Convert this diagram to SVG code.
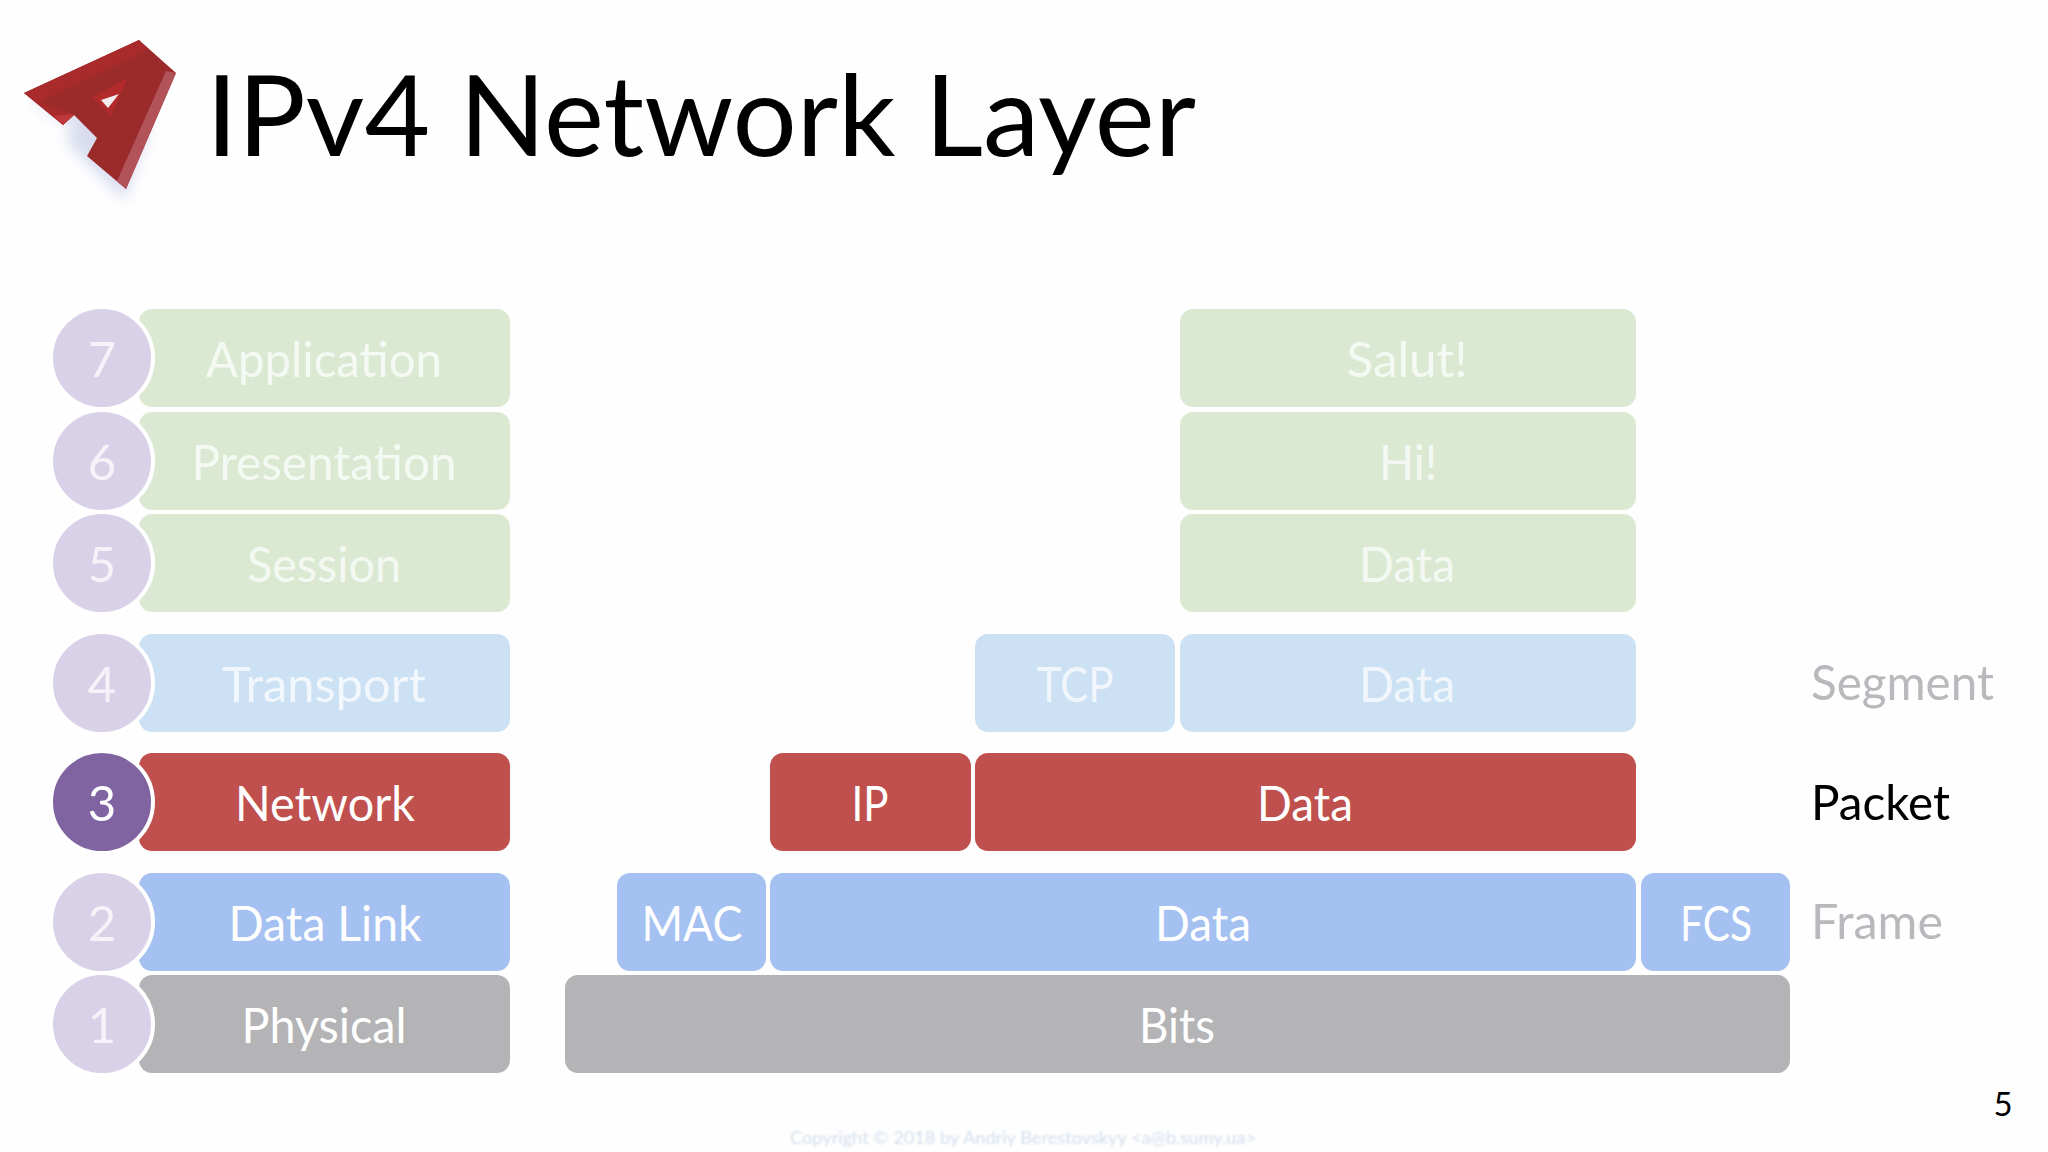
<svg xmlns="http://www.w3.org/2000/svg" width="2048" height="1152" viewBox="0 0 2048 1152">
<style>
text{font-family:"Lato","Carlito","Liberation Sans",sans-serif;text-anchor:middle}
.l{font-size:49px;fill:#fff}
.f{fill-opacity:.72}
.side{font-size:49px;text-anchor:start}
.g{fill:#dbe9d3}.b{fill:#cce1f3}.r{fill:#c0504d}.d{fill:#a4c1f2}.y{fill:#b4b4b6}
.c{fill:#d9d1e8;stroke:#fff;stroke-width:4}
</style>
<defs>
<filter id="soft" x="-30%" y="-30%" width="160%" height="160%"><feGaussianBlur stdDeviation="7"/></filter>
<filter id="blur" x="-5%" y="-50%" width="110%" height="200%"><feGaussianBlur stdDeviation="0.9"/></filter>
<filter id="edge" x="-5%" y="-5%" width="110%" height="110%"><feGaussianBlur stdDeviation="0.7"/></filter>
</defs>
<rect width="2048" height="1152" fill="#fefefe"/>

<g id="logo">
<path d="M28 100 72 126 66 142 92 168 124 200 150 130Z" fill="#c4cbe6" opacity=".65" filter="url(#soft)"/>
<g filter="url(#edge)">
<path fill="#9b2a2c" d="M24 93 139 40 176 73 126 189 87 156 97 138 74 115 63 125Z"/>
<path fill="#a92a2c" d="M24 93 139 40 147 50 40 102 74 115 63 125Z"/>
<path fill="#b2525a" d="M166 71 176 73 126 189 117 181Z"/>
<path fill="#c0383a" d="M54 116 70 114 74 115 63 125Z"/>
<path fill="#b22a2c" d="M93 97 128 78 111 115Z"/>
<path fill="#f3ecee" d="M101 100 119 94 108 108Z"/>
</g>
</g>

<text id="title" x="701" y="156" font-size="113" textLength="990" lengthAdjust="spacingAndGlyphs" fill="#000">IPv4 Network Layer</text>

<g id="layer7"><rect class="g" x="139" y="309" width="371" height="98" rx="13"/><circle class="c" cx="102" cy="358" r="51"/><text class="l f" x="102" y="377">7</text><text class="l f" x="324" y="377" textLength="236" lengthAdjust="spacingAndGlyphs">Application</text></g>
<g id="layer6"><rect class="g" x="139" y="412" width="371" height="98" rx="13"/><circle class="c" cx="102" cy="461" r="51"/><text class="l f" x="102" y="480">6</text><text class="l f" x="324" y="480" textLength="265" lengthAdjust="spacingAndGlyphs">Presentation</text></g>
<g id="layer5"><rect class="g" x="139" y="514" width="371" height="98" rx="13"/><circle class="c" cx="102" cy="563" r="51"/><text class="l f" x="102" y="582">5</text><text class="l f" x="324" y="582" textLength="154" lengthAdjust="spacingAndGlyphs">Session</text></g>
<g id="layer4"><rect class="b" x="139" y="634" width="371" height="98" rx="13"/><circle class="c" cx="102" cy="683" r="51"/><text class="l f" x="102" y="702">4</text><text class="l f" x="324" y="702" textLength="204" lengthAdjust="spacingAndGlyphs">Transport</text></g>
<g id="layer3"><rect class="r" x="139" y="753" width="371" height="98" rx="13"/><circle class="c" style="fill:#8064a2" cx="102" cy="802" r="51"/><text class="l" x="102" y="821">3</text><text class="l" x="325" y="821" textLength="180" lengthAdjust="spacingAndGlyphs">Network</text></g>
<g id="layer2"><rect class="d" x="139" y="873" width="371" height="98" rx="13"/><circle class="c" cx="102" cy="922" r="51"/><text class="l f" x="102" y="941">2</text><text class="l" x="325" y="941" textLength="193" lengthAdjust="spacingAndGlyphs">Data Link</text></g>
<g id="layer1"><rect class="y" x="139" y="975" width="371" height="98" rx="13"/><circle class="c" cx="102" cy="1024" r="51"/><text class="l f" x="102" y="1043">1</text><text class="l" x="324" y="1043" textLength="165" lengthAdjust="spacingAndGlyphs">Physical</text></g>

<g id="salut"><rect class="g" x="1180" y="309" width="456" height="98" rx="13"/><text class="l f" x="1407" y="377" textLength="121" lengthAdjust="spacingAndGlyphs">Salut!</text></g>
<g id="hi"><rect class="g" x="1180" y="412" width="456" height="98" rx="13"/><text class="l f" x="1408" y="480" textLength="58" lengthAdjust="spacingAndGlyphs">Hi!</text></g>
<g id="data5"><rect class="g" x="1180" y="514" width="456" height="98" rx="13"/><text class="l f" x="1407" y="582" textLength="96" lengthAdjust="spacingAndGlyphs">Data</text></g>
<g id="tcp"><rect class="b" x="975" y="634" width="200" height="98" rx="13"/><text class="l f" x="1075" y="702" textLength="77" lengthAdjust="spacingAndGlyphs">TCP</text></g>
<g id="data4"><rect class="b" x="1180" y="634" width="456" height="98" rx="13"/><text class="l f" x="1407" y="702" textLength="96" lengthAdjust="spacingAndGlyphs">Data</text></g>
<g id="ip"><rect class="r" x="770" y="753" width="201" height="98" rx="13"/><text class="l" x="870" y="821" textLength="37" lengthAdjust="spacingAndGlyphs">IP</text></g>
<g id="data3"><rect class="r" x="975" y="753" width="661" height="98" rx="13"/><text class="l" x="1305" y="821" textLength="96" lengthAdjust="spacingAndGlyphs">Data</text></g>
<g id="mac"><rect class="d" x="617" y="873" width="149" height="98" rx="13"/><text class="l" x="692" y="941" textLength="101" lengthAdjust="spacingAndGlyphs">MAC</text></g>
<g id="data2"><rect class="d" x="770" y="873" width="866" height="98" rx="13"/><text class="l" x="1203" y="941" textLength="96" lengthAdjust="spacingAndGlyphs">Data</text></g>
<g id="fcs"><rect class="d" x="1641" y="873" width="149" height="98" rx="13"/><text class="l" x="1716" y="941" textLength="72" lengthAdjust="spacingAndGlyphs">FCS</text></g>
<g id="bits"><rect class="y" x="565" y="975" width="1225" height="98" rx="13"/><text class="l" x="1177" y="1043" textLength="76" lengthAdjust="spacingAndGlyphs">Bits</text></g>

<text id="segment" class="side" x="1811" y="700" fill="#b9b9bd" textLength="183" lengthAdjust="spacingAndGlyphs">Segment</text>
<text id="packet" class="side" x="1811" y="820" fill="#000" textLength="139" lengthAdjust="spacingAndGlyphs">Packet</text>
<text id="frame" class="side" x="1811" y="939" fill="#b9b9bd" textLength="132" lengthAdjust="spacingAndGlyphs">Frame</text>
<text id="page" x="2003" y="1116" font-size="33" fill="#000">5</text>
<text id="copyright" x="1023" y="1144" font-size="18" fill="#d3dfed" textLength="466" lengthAdjust="spacingAndGlyphs" filter="url(#blur)">Copyright © 2018 by Andriy Berestovskyy &lt;a@b.sumy.ua&gt;</text>
</svg>
